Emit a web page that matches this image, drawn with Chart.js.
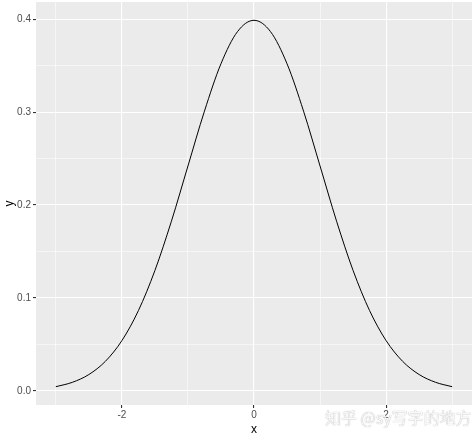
<!DOCTYPE html>
<html>
<head>
<meta charset="utf-8">
<script src="https://cdn.jsdelivr.net/npm/chart.js@4"></script>
<style>
  html, body { margin: 0; padding: 0; background: #fff; }
  #wrap { position: relative; width: 474px; height: 439px; }
  #mark {
    position: absolute; left: 325px; top: 405px;
    font: 16px "Noto Sans CJK SC", sans-serif; color: #f8f8f8;
    text-shadow: 0 0 1px #999;
    white-space: nowrap; pointer-events: none;
  }
</style>
</head>
<body>
<div id="wrap">
  <canvas id="c" width="474" height="439"></canvas>
  <div id="mark">知乎 @sy写字的地方</div>
</div>
<script>
// ===== data =====
const xs = [-3, -2.75, -2.5, -2.25, -2, -1.75, -1.5, -1.25, -1, -0.75, -0.5, -0.25, 0,
            0.25, 0.5, 0.75, 1, 1.25, 1.5, 1.75, 2, 2.25, 2.5, 2.75, 3];
const ys = [0.0044, 0.0091, 0.0175, 0.0317, 0.0540, 0.0863, 0.1295, 0.1826, 0.2420, 0.3011, 0.3521, 0.3867, 0.3989,
            0.3867, 0.3521, 0.3011, 0.2420, 0.1826, 0.1295, 0.0863, 0.0540, 0.0317, 0.0175, 0.0091, 0.0044];

const xGrid = [-3, -2, -1, 0, 1, 2, 3];
const xMajor = [-2, 0, 2];
const yGrid = [0, 0.05, 0.1, 0.15, 0.2, 0.25, 0.3, 0.35, 0.4];
const yMajor = [0, 0.1, 0.2, 0.3, 0.4];

const isMajor = (list, v) => list.some(m => Math.abs(m - v) < 1e-9);

// grey panel like ggplot
const panelBg = {
  id: 'panelBg',
  beforeDraw(chart) {
    const a = chart.chartArea, ctx = chart.ctx;
    ctx.save();
    ctx.fillStyle = '#ebebeb';
    ctx.fillRect(a.left, a.top, a.right - a.left, a.bottom - a.top);
    ctx.restore();
  }
};

const tickFont = { family: 'Liberation Sans, Arial, sans-serif', size: 10 };

new Chart(document.getElementById('c'), {
  type: 'line',
  data: {
    datasets: [{
      data: xs.map((x, i) => ({ x, y: ys[i] })),
      borderColor: '#000',
      borderWidth: 1,
      pointRadius: 0,
      cubicInterpolationMode: 'monotone',
      fill: false
    }]
  },
  options: {
    responsive: false,
    animation: false,
    layout: { padding: { top: 2, right: 2, left: 0, bottom: 0 } },
    plugins: { legend: { display: false }, tooltip: { enabled: false } },
    scales: {
      x: {
        type: 'linear',
        min: -3.3, max: 3.3,
        afterBuildTicks: s => { s.ticks = xGrid.map(v => ({ value: v })); },
        afterFit: s => { s.height = 34; s.paddingLeft = 0; s.paddingRight = 0; },
        border: { display: false },
        grid: {
          color: c => '#ffffff',
          lineWidth: c => isMajor(xMajor, c.tick.value) ? 1.1 : 0.55,
          tickColor: c => isMajor(xMajor, c.tick.value) ? '#333333' : 'rgba(0,0,0,0)',
          tickLength: 3
        },
        ticks: {
          color: '#4d4d4d', font: tickFont, padding: 1, maxRotation: 0, autoSkip: false,
          callback: v => isMajor(xMajor, v) ? String(v) : ''
        },
        title: {
          display: true, text: 'x', color: '#000',
          font: { family: 'Liberation Sans, Arial, sans-serif', size: 12 },
          padding: { top: 0, bottom: 2 }
        }
      },
      y: {
        type: 'linear',
        min: -0.0153, max: 0.4186,
        afterBuildTicks: s => { s.ticks = yGrid.map(v => ({ value: v })); },
        afterFit: s => { s.width = 36; s.paddingTop = 0; s.paddingBottom = 0; },
        border: { display: false },
        grid: {
          color: c => '#ffffff',
          lineWidth: c => isMajor(yMajor, c.tick.value) ? 1.1 : 0.55,
          tickColor: c => isMajor(yMajor, c.tick.value) ? '#333333' : 'rgba(0,0,0,0)',
          tickLength: 3
        },
        ticks: {
          color: '#4d4d4d', font: tickFont, padding: 2, autoSkip: false,
          callback: v => isMajor(yMajor, v) ? v.toFixed(1) : ''
        },
        title: {
          display: true, text: 'y', color: '#000',
          font: { family: 'Liberation Sans, Arial, sans-serif', size: 12 },
          padding: { top: 2, bottom: 0 }
        }
      }
    }
  },
  plugins: [panelBg]
});
</script>
</body>
</html>
